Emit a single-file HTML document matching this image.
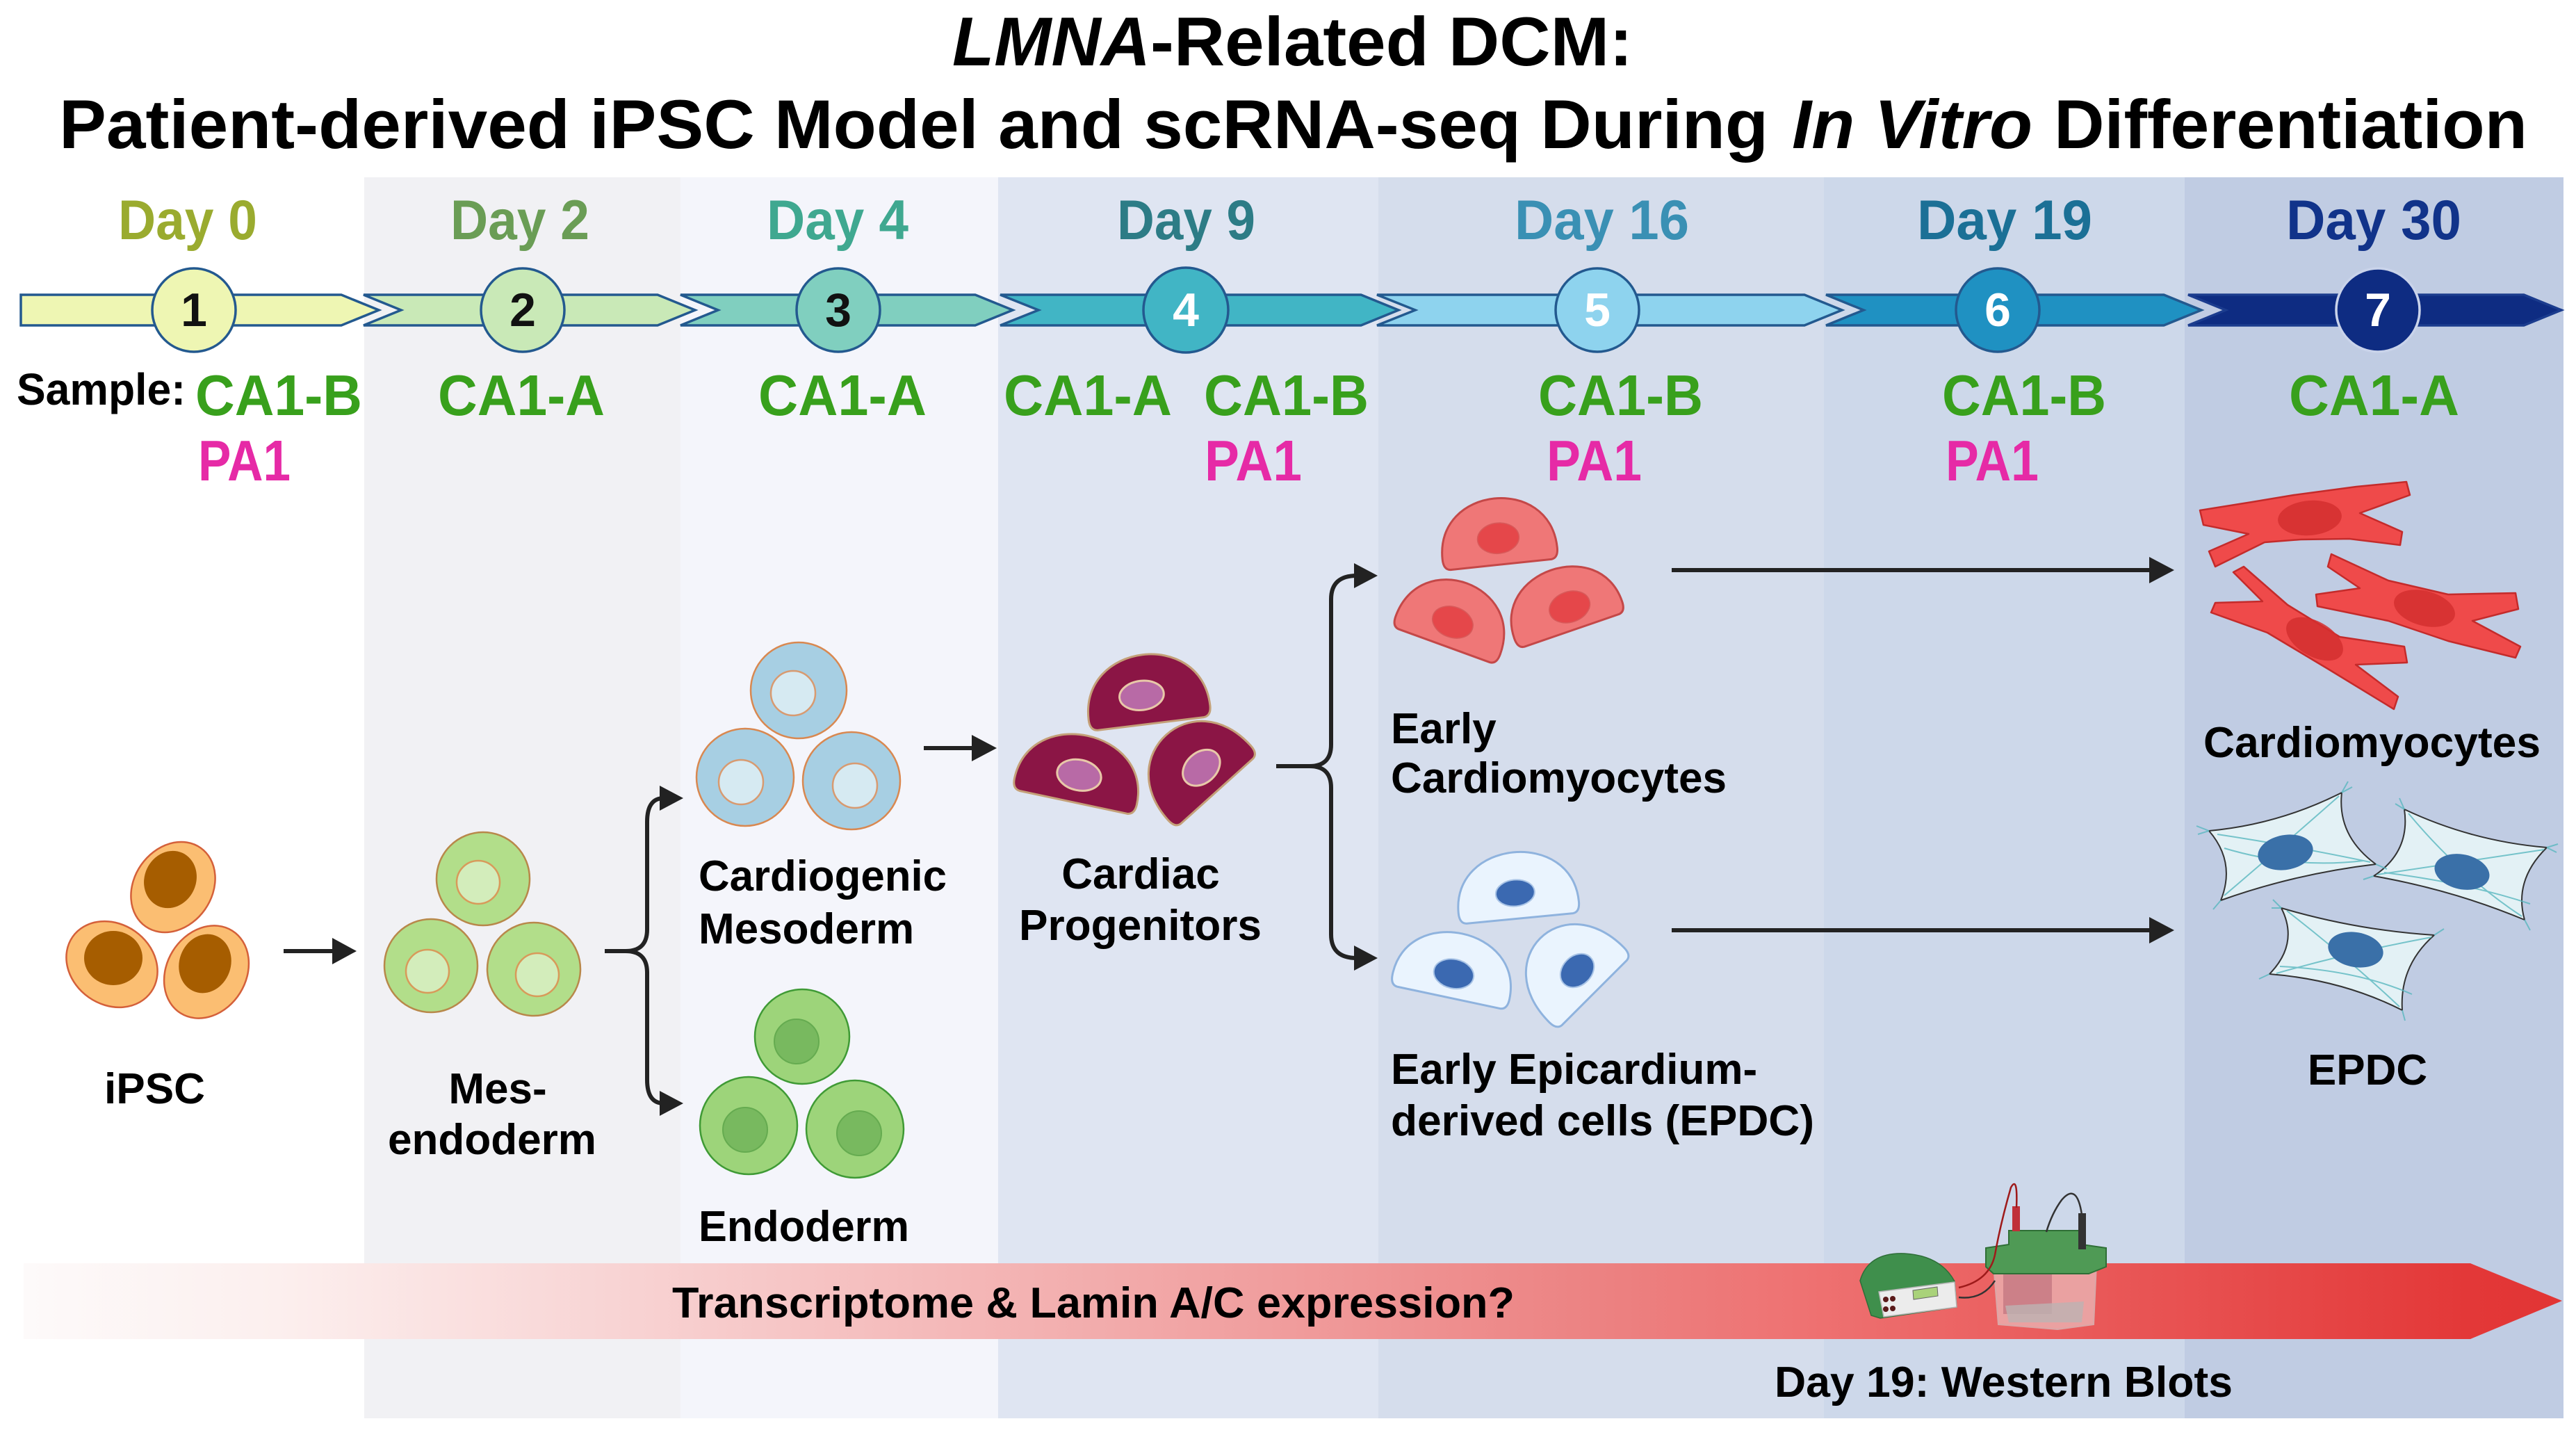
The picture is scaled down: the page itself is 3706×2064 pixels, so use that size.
<!DOCTYPE html>
<html><head><meta charset="utf-8">
<style>
html,body{margin:0;padding:0;background:#fff;overflow:hidden;}
svg{display:block;}
.t{font-family:"Liberation Sans",Arial,sans-serif;font-weight:bold;}
</style></head>
<body>
<svg width="3706" height="2064" viewBox="0 0 3706 2064" xmlns="http://www.w3.org/2000/svg">
<defs>
<linearGradient id="bar" gradientUnits="userSpaceOnUse" x1="34" y1="0" x2="3686" y2="0">
<stop offset="0" stop-color="#fdfafa"/>
<stop offset="0.1" stop-color="#fcefee"/>
<stop offset="0.237" stop-color="#f8d3d3"/>
<stop offset="0.40" stop-color="#f3b1b1"/>
<stop offset="0.62" stop-color="#ec8282"/>
<stop offset="0.70" stop-color="#ee7272"/>
<stop offset="0.963" stop-color="#e33838"/>
<stop offset="1" stop-color="#e23434"/>
</linearGradient>
</defs>
<rect width="3706" height="2064" fill="#fff"/>
<!-- bands -->
<rect x="524" y="255" width="455" height="1785" fill="#f1f1f4"/>
<rect x="979" y="255" width="457" height="1785" fill="#f4f5fb"/>
<rect x="1436" y="255" width="547" height="1785" fill="#dfe5f2"/>
<rect x="1983" y="255" width="641" height="1785" fill="#d5ddec"/>
<rect x="2624" y="255" width="519" height="1785" fill="#cdd8ea"/>
<rect x="3143" y="255" width="545" height="1785" fill="#c0cce3"/>

<!-- Title -->
<text class="t" x="1370" y="94" font-size="99" font-style="italic" textLength="285" lengthAdjust="spacingAndGlyphs">LMNA</text>
<text class="t" x="1655" y="94" font-size="99" textLength="694" lengthAdjust="spacingAndGlyphs">-Related DCM:</text>
<text class="t" x="85" y="213" font-size="99" textLength="2459" lengthAdjust="spacingAndGlyphs">Patient-derived iPSC Model and scRNA-seq During</text>
<text class="t" x="2578" y="213" font-size="99" font-style="italic" textLength="346" lengthAdjust="spacingAndGlyphs">In Vitro</text>
<text class="t" x="2955" y="213" font-size="99" textLength="681" lengthAdjust="spacingAndGlyphs">Differentiation</text>

<!-- Day labels -->
<g class="t" font-size="81">
<text x="170" y="344" fill="#9aab2f" textLength="200" lengthAdjust="spacingAndGlyphs">Day 0</text>
<text x="648" y="344" fill="#6a9d55" textLength="200" lengthAdjust="spacingAndGlyphs">Day 2</text>
<text x="1103" y="344" fill="#3fa890" textLength="204" lengthAdjust="spacingAndGlyphs">Day 4</text>
<text x="1607" y="344" fill="#2d7c86" textLength="199" lengthAdjust="spacingAndGlyphs">Day 9</text>
<text x="2179" y="344" fill="#3a90b4" textLength="251" lengthAdjust="spacingAndGlyphs">Day 16</text>
<text x="2758" y="344" fill="#1b7096" textLength="252" lengthAdjust="spacingAndGlyphs">Day 19</text>
<text x="3289" y="344" fill="#11338a" textLength="252" lengthAdjust="spacingAndGlyphs">Day 30</text>
</g>

<!-- timeline segments -->
<g stroke="#23598f" stroke-width="3.5" stroke-linejoin="miter">
<path d="M30,424 L491,424 L545,446 L491,468 L30,468 Z" fill="#eef6b3"/>
<path d="M523,424 L946,424 L1000,446 L946,468 L523,468 L577,446 Z" fill="#c9e9b7"/>
<path d="M979,424 L1403,424 L1457,446 L1403,468 L979,468 L1033,446 Z" fill="#80cfbf"/>
<path d="M1439,424 L1958,424 L2012,446 L1958,468 L1439,468 L1494,446 Z" fill="#41b5c5"/>
<path d="M1981,424 L2596,424 L2650,446 L2596,468 L1981,468 L2036,446 Z" fill="#8ed3ee"/>
<path d="M2627,424 L3113,424 L3167,446 L3113,468 L2627,468 L2681,446 Z" fill="#1f91c2"/>
<path d="M3148,424 L3631,424 L3685,446 L3631,468 L3148,468 L3202,446 Z" fill="#0e2c82" stroke="#1b3c8e"/>
</g>
<g stroke="#23598f" stroke-width="3.5">
<circle cx="279" cy="446" r="60" fill="#eef6b3"/>
<circle cx="752" cy="446" r="60" fill="#c9e9b7"/>
<circle cx="1206" cy="446" r="60" fill="#80cfbf"/>
<circle cx="1706" cy="446" r="61" fill="#41b5c5"/>
<circle cx="2298" cy="446" r="60" fill="#8ed3ee"/>
<circle cx="2874" cy="446" r="60" fill="#1f91c2"/>
<circle cx="3421" cy="446" r="60" fill="#0e2c82" stroke="#c9d3ea"/>
</g>
<g class="t" font-size="68" text-anchor="middle">
<text x="279" y="469" fill="#111">1</text>
<text x="752" y="469" fill="#111">2</text>
<text x="1206" y="469" fill="#111">3</text>
<text x="1706" y="469" fill="#fff">4</text>
<text x="2298" y="469" fill="#fff">5</text>
<text x="2874" y="469" fill="#fff">6</text>
<text x="3421" y="469" fill="#fff">7</text>
</g>

<!-- samples -->
<text class="t" x="24" y="582" font-size="64" fill="#000" textLength="243" lengthAdjust="spacingAndGlyphs">Sample:</text>
<g class="t" font-size="83" fill="#38a01c">
<text x="281" y="597" textLength="240" lengthAdjust="spacingAndGlyphs">CA1-B</text>
<text x="630" y="597" textLength="240" lengthAdjust="spacingAndGlyphs">CA1-A</text>
<text x="1091" y="597" textLength="242" lengthAdjust="spacingAndGlyphs">CA1-A</text>
<text x="1444" y="597" textLength="242" lengthAdjust="spacingAndGlyphs">CA1-A</text>
<text x="1732" y="597" textLength="237" lengthAdjust="spacingAndGlyphs">CA1-B</text>
<text x="2213" y="597" textLength="237" lengthAdjust="spacingAndGlyphs">CA1-B</text>
<text x="2794" y="597" textLength="236" lengthAdjust="spacingAndGlyphs">CA1-B</text>
<text x="3293" y="597" textLength="245" lengthAdjust="spacingAndGlyphs">CA1-A</text>
</g>
<g class="t" font-size="83" fill="#e62aa6">
<text x="285" y="691" textLength="133" lengthAdjust="spacingAndGlyphs">PA1</text>
<text x="1733" y="691" textLength="140" lengthAdjust="spacingAndGlyphs">PA1</text>
<text x="2225" y="691" textLength="137" lengthAdjust="spacingAndGlyphs">PA1</text>
<text x="2799" y="691" textLength="134" lengthAdjust="spacingAndGlyphs">PA1</text>
</g>

<!-- iPSC cells -->
<g fill="#fbbe72" stroke="#d4603a" stroke-width="2.5">
<ellipse cx="249" cy="1276" rx="69" ry="56" transform="rotate(-55 249 1276)"/>
<ellipse cx="161" cy="1387" rx="69" ry="58" transform="rotate(35 161 1387)"/>
<ellipse cx="297" cy="1398" rx="70" ry="57" transform="rotate(-58 297 1398)"/>
</g>
<g fill="#a65d00">
<ellipse cx="245" cy="1265" rx="37" ry="42" transform="rotate(25 245 1265)"/>
<ellipse cx="163" cy="1378" rx="42" ry="39"/>
<ellipse cx="295" cy="1386" rx="37" ry="43" transform="rotate(20 295 1386)"/>
</g>

<!-- arrows -->
<g stroke="#222" stroke-width="6" fill="none">
<line x1="408" y1="1368" x2="482" y2="1368"/>
<line x1="1329" y1="1076" x2="1402" y2="1076"/>
<line x1="2405" y1="820" x2="3096" y2="820"/>
<line x1="2405" y1="1338" x2="3096" y2="1338"/>
<path d="M870,1368 L900,1368 Q931,1368 931,1337 L931,1182 Q931,1148 955,1148"/>
<path d="M900,1368 Q931,1368 931,1399 L931,1553 Q931,1587 955,1587"/>
<path d="M1836,1102 L1884,1102 Q1915,1102 1915,1071 L1915,862 Q1915,828 1952,828"/>
<path d="M1884,1102 Q1915,1102 1915,1133 L1915,1344 Q1915,1378 1952,1378"/>
</g>
<g fill="#222">
<polygon points="478,1349 513,1368 478,1387"/>
<polygon points="1398,1057 1434,1076 1398,1095"/>
<polygon points="3092,801 3128,820 3092,839"/>
<polygon points="3092,1319 3128,1338 3092,1357"/>
<polygon points="949,1130 983,1148 949,1166"/>
<polygon points="949,1569 983,1587 949,1605"/>
<polygon points="1948,810 1982,828 1948,846"/>
<polygon points="1948,1360 1982,1378 1948,1396"/>
</g>

<!-- Mesendoderm -->
<g fill="#b2de8a" stroke="#b8884a" stroke-width="2.5">
<circle cx="695" cy="1264" r="67"/><circle cx="620" cy="1389" r="67"/><circle cx="768" cy="1394" r="67"/>
</g>
<g fill="#d3edbb" stroke="#d89a5a" stroke-width="2.5">
<circle cx="688" cy="1269" r="31"/><circle cx="615" cy="1397" r="31"/><circle cx="773" cy="1402" r="31"/>
</g>

<!-- Cardiogenic mesoderm -->
<g fill="#a7cfe3" stroke="#d98850" stroke-width="2.5">
<circle cx="1149" cy="993" r="69"/><circle cx="1072" cy="1118" r="70"/><circle cx="1225" cy="1123" r="70"/>
</g>
<g fill="#d6eaf2" stroke="#d89a70" stroke-width="2.5">
<circle cx="1141" cy="997" r="32"/><circle cx="1066" cy="1125" r="32"/><circle cx="1230" cy="1130" r="32"/>
</g>

<!-- Endoderm -->
<g fill="#9dd47a" stroke="#3f9a35" stroke-width="2.5">
<circle cx="1154" cy="1491" r="68"/><circle cx="1077" cy="1619" r="70"/><circle cx="1230" cy="1624" r="70"/>
</g>
<g fill="#78b95f" stroke="#65ab50" stroke-width="2">
<circle cx="1146" cy="1498" r="32"/><circle cx="1072" cy="1625" r="32"/><circle cx="1236" cy="1630" r="32"/>
</g>

<!-- Cardiac progenitors -->
<g fill="#8b1545" stroke="#c4a078" stroke-width="3" stroke-linejoin="round">
<g transform="translate(1655,1037) rotate(-7)"><path d="M-77,4 Q-88,3 -88,-12 C-88,-124 88,-124 88,-12 Q88,3 77,4 Z"/><ellipse cx="-8" cy="-38" rx="32" ry="21" fill="#b86aa6" stroke="#e8c8a8"/></g>
<g transform="translate(1545,1150) rotate(12)"><path d="M-79,4 Q-90,3 -90,-12 C-90,-121 90,-121 90,-12 Q90,3 79,4 Z"/><ellipse cx="0" cy="-36" rx="32" ry="22" fill="#b86aa6" stroke="#e8c8a8"/></g>
<g transform="translate(1748,1135) rotate(-42)"><path d="M-70,4 Q-80,3 -80,-12 C-80,-136 80,-136 80,-12 Q80,3 70,4 Z"/><ellipse cx="6" cy="-36" rx="30" ry="22" fill="#b86aa6" stroke="#e8c8a8"/></g>
</g>

<!-- Early cardiomyocytes -->
<g fill="#ef7777" stroke="#c44848" stroke-width="3" stroke-linejoin="round">
<g transform="translate(2159,808) rotate(-6)"><path d="M-73,4 Q-83,3 -83,-12 C-83,-118 83,-118 83,-12 Q83,3 73,4 Z"/><ellipse cx="0" cy="-34" rx="30" ry="22" fill="#e5474a" stroke="#d85a5a" stroke-width="1.5"/></g>
<g transform="translate(2079,925) rotate(20)"><path d="M-70,4 Q-80,3 -80,-12 C-80,-118 80,-118 80,-12 Q80,3 70,4 Z"/><ellipse cx="0" cy="-32" rx="30" ry="22" fill="#e5474a" stroke="#d85a5a" stroke-width="1.5"/></g>
<g transform="translate(2260,903) rotate(-19)"><path d="M-72,4 Q-82,3 -82,-12 C-82,-113 82,-113 82,-12 Q82,3 72,4 Z"/><ellipse cx="8" cy="-29" rx="30" ry="22" fill="#e5474a" stroke="#d85a5a" stroke-width="1.5"/></g>
</g>

<!-- Early EPDC -->
<g fill="#eaf4fe" stroke="#8fb3de" stroke-width="3" stroke-linejoin="round">
<g transform="translate(2186,1317) rotate(-5.5)"><path d="M-77,4 Q-87,3 -87,-12 C-87,-118 87,-118 87,-12 Q87,3 77,4 Z"/><ellipse cx="-3" cy="-33" rx="28" ry="19" fill="#3b69b1" stroke="#a9c4e6" stroke-width="2"/></g>
<g transform="translate(2085,1431) rotate(12)"><path d="M-76,4 Q-86,3 -86,-12 C-86,-116 86,-116 86,-12 Q86,3 76,4 Z"/><ellipse cx="0" cy="-31" rx="29" ry="21" fill="#3b69b1" stroke="#a9c4e6" stroke-width="2"/></g>
<g transform="translate(2291,1425) rotate(-45)"><path d="M-66,4 Q-76,3 -76,-12 C-76,-138 76,-138 76,-12 Q76,3 66,4 Z"/><ellipse cx="5" cy="-36" rx="27" ry="21" fill="#3b69b1" stroke="#a9c4e6" stroke-width="2"/></g>
</g>

<!-- Mature cardiomyocytes -->
<g fill="#ef4a4a" stroke="#c42b2b" stroke-width="2.5" stroke-linejoin="round">
<polygon points="3165,734 3240,722 3300,712 3390,700 3462,693 3467,712 3395,738 3456,765 3453,784 3380,775 3310,776 3258,780 3187,815 3178,793 3235,768 3170,755"/>
<polygon points="3354,797 3436,835 3522,855 3619,853 3623,876 3557,893 3626,930 3619,946 3522,922 3436,893 3334,872 3332,855 3395,846 3349,815"/>
<polygon points="3228,815 3291,870 3366,916 3459,930 3463,953 3389,956 3450,1002 3444,1020 3349,962 3262,910 3181,881 3187,867 3255,865 3213,823"/>
</g>
<g fill="#d52f2f" opacity="0.85">
<ellipse cx="3323" cy="745" rx="46" ry="25" transform="rotate(-5 3323 745)"/>
<ellipse cx="3488" cy="875" rx="45" ry="25" transform="rotate(15 3488 875)"/>
<ellipse cx="3330" cy="919" rx="45" ry="25" transform="rotate(30 3330 919)"/>
</g>

<!-- EPDC stellate -->
<g fill="#e3f1f5" stroke="#333" stroke-width="2" stroke-linejoin="round">
<path d="M3178,1195 Q3278,1186 3369,1140 Q3362,1202 3418,1243 Q3301,1257 3195,1295 Q3217,1240 3178,1195 Z"/>
<path d="M3459,1164 Q3556,1210 3664,1219 Q3616,1266 3632,1323 Q3529,1280 3415,1260 Q3468,1225 3459,1164 Z"/>
<path d="M3282,1306 Q3391,1338 3502,1345 Q3452,1389 3456,1453 Q3369,1409 3265,1401 Q3308,1357 3282,1306 Z"/>
</g>
<g stroke="#5ab8c0" stroke-width="2" fill="none" opacity="0.8">
<path d="M3190,1200 Q3290,1215 3410,1240"/><path d="M3200,1288 Q3280,1220 3365,1145"/><path d="M3200,1220 Q3300,1250 3400,1238"/>
<path d="M3420,1258 Q3540,1240 3660,1222"/><path d="M3465,1170 Q3540,1260 3628,1318"/><path d="M3430,1255 Q3550,1270 3640,1300"/>
<path d="M3275,1400 Q3380,1370 3498,1348"/><path d="M3290,1310 Q3380,1380 3452,1448"/><path d="M3280,1390 Q3390,1395 3470,1430"/>
<path d="M3178,1195 L3160,1188 M3178,1195 L3162,1200 M3369,1140 L3378,1124 M3369,1140 L3384,1132 M3418,1243 L3434,1250 M3195,1295 L3184,1308"/>
<path d="M3459,1164 L3452,1148 M3459,1164 L3446,1156 M3664,1219 L3680,1214 M3664,1219 L3678,1226 M3632,1323 L3640,1338 M3415,1260 L3400,1265"/>
<path d="M3282,1306 L3270,1294 M3282,1306 L3268,1306 M3502,1345 L3516,1336 M3456,1453 L3460,1468 M3265,1401 L3250,1408"/>
</g>
<g fill="#3a70a8">
<ellipse cx="3288" cy="1226" rx="40" ry="25" transform="rotate(-10 3288 1226)"/>
<ellipse cx="3542" cy="1254" rx="40" ry="25" transform="rotate(12 3542 1254)"/>
<ellipse cx="3389" cy="1366" rx="40" ry="25" transform="rotate(10 3389 1366)"/>
</g>

<!-- labels -->
<g class="t" font-size="62" fill="#000">
<text x="150" y="1587" textLength="145" lengthAdjust="spacingAndGlyphs">iPSC</text>
<text x="716" y="1587" text-anchor="middle">Mes-</text>
<text x="558" y="1660" textLength="300" lengthAdjust="spacingAndGlyphs">endoderm</text>
<text x="1005" y="1281" textLength="357" lengthAdjust="spacingAndGlyphs">Cardiogenic</text>
<text x="1005" y="1357">Mesoderm</text>
<text x="1005" y="1785" textLength="303" lengthAdjust="spacingAndGlyphs">Endoderm</text>
<text x="1641" y="1278" text-anchor="middle">Cardiac</text>
<text x="1466" y="1352" textLength="349" lengthAdjust="spacingAndGlyphs">Progenitors</text>
<text x="2001" y="1069">Early</text>
<text x="2001" y="1140" textLength="483" lengthAdjust="spacingAndGlyphs">Cardiomyocytes</text>
<text x="2001" y="1559">Early Epicardium-</text>
<text x="2001" y="1633" textLength="609" lengthAdjust="spacingAndGlyphs">derived cells (EPDC)</text>
<text x="3170" y="1089" textLength="485" lengthAdjust="spacingAndGlyphs">Cardiomyocytes</text>
<text x="3406" y="1560" text-anchor="middle">EPDC</text>
</g>

<!-- bottom bar -->
<path d="M34,1817 L3554,1817 L3686,1871 L3554,1926 L34,1926 Z" fill="url(#bar)"/>
<text class="t" x="967" y="1895" font-size="62" fill="#000" textLength="1212" lengthAdjust="spacingAndGlyphs">Transcriptome &amp; Lamin A/C expression?</text>

<!-- equipment: power supply -->
<path d="M2676,1842 Q2688,1801 2740,1803 Q2792,1806 2812,1843 L2815,1880 L2705,1896 L2692,1892 Z" fill="#3f8f4c" stroke="#2e6e38" stroke-width="1.5"/>
<path d="M2703,1858 L2812,1844 L2815,1880 L2710,1894 Z" fill="#ececec" stroke="#b5b5b5" stroke-width="1.5"/>
<polygon points="2752,1856 2787,1851 2788,1864 2753,1869" fill="#a9d27a" stroke="#666" stroke-width="1"/>
<g fill="#5a1a1a"><circle cx="2713" cy="1869" r="4"/><circle cx="2723" cy="1868" r="4"/><circle cx="2713" cy="1883" r="4"/><circle cx="2723" cy="1882" r="4"/></g>
<!-- gel tank -->
<path d="M2868,1818 L3016,1818 L3012,1905 L2960,1912 L2875,1905 Z" fill="#eba9a9" stroke="#d9b0b0" stroke-width="2" opacity="0.9"/>
<rect x="2882" y="1822" width="70" height="68" fill="#b86a78" opacity="0.6"/>
<polygon points="2885,1878 2998,1872 2995,1902 2890,1902" fill="#bdb3b3" opacity="0.8"/>
<path d="M2857,1795 L2890,1790 L2890,1770 L2995,1770 L2995,1790 L3030,1795 L3030,1822 L3005,1832 L2868,1832 L2857,1822 Z" fill="#4f9a55" stroke="#2f6f36" stroke-width="2"/>
<rect x="2895" y="1735" width="11" height="36" fill="#c0303a"/>
<rect x="2990" y="1745" width="11" height="52" fill="#333"/>
<g fill="none" stroke-width="2.5">
<path d="M2901,1737 Q2903,1690 2893,1708 Q2878,1760 2870,1805 Q2862,1842 2818,1852" stroke="#9e1a1a"/>
<path d="M2995,1747 Q2988,1700 2966,1726 Q2952,1745 2944,1772" stroke="#333"/>
<path d="M2870,1842 Q2852,1870 2818,1866" stroke="#333"/>
</g>
<text class="t" x="2553" y="2009" font-size="62" fill="#000" textLength="659" lengthAdjust="spacingAndGlyphs">Day 19: Western Blots</text>
</svg>
</body></html>
